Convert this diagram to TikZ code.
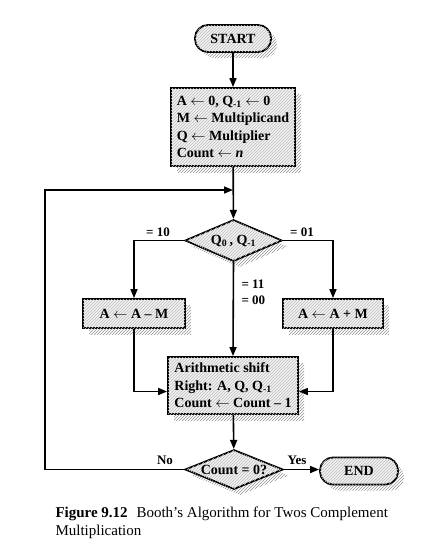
\documentclass[tikz,border=0pt]{standalone}
\usepackage{fontspec}
\setmainfont{Liberation Serif}
\usetikzlibrary{shapes.geometric,arrows.meta,shadows,patterns}

\newcommand{\asgn}{\ensuremath{\leftarrow}}

\begin{document}
\begin{tikzpicture}[
    x=1pt, y=-1pt,
    hatch/.style={draw, line width=1.8pt, fill=gray!10,
        postaction={pattern=north east lines, pattern color=gray!50},
        drop shadow={shadow xshift=6pt, shadow yshift=-6pt, opacity=1,
            fill=gray!25, pattern=north east lines, pattern color=gray!85}},
    box/.style={hatch, inner sep=0pt, font=\fontsize{14}{17.5}\selectfont\bfseries},
    term/.style={box, rounded corners=13pt},
    dec/.style={box, diamond, inner sep=0pt},
    lbl/.style={font=\fontsize{13}{16}\selectfont\bfseries},
    flow/.style={line width=1.6pt, -{Triangle[length=9pt, width=7pt]}},
    capt/.style={font=\fontsize{15}{17}\selectfont, anchor=base west}
]
\useasboundingbox (0,0) rectangle (443,558);

% --- start and initialisation ---
\node[term, minimum width=76pt, minimum height=27pt] (start) at (233,38.5) {START};
\node[box, minimum width=124pt, minimum height=78pt, align=left] (init) at (233,127)
    {A \asgn\ 0, Q\textsubscript{-1} \asgn\ 0\\
     M \asgn\ Multiplicand\\
     Q \asgn\ Multiplier\\
     Count \asgn\ \textit{n}};

% --- test of Q0, Q-1 ---
\coordinate (loopin) at (233,190);
\coordinate (corner) at (45,190);
\node[dec, minimum width=97pt, minimum height=41pt] (qtest) at (233.5,240.5)
    {\makebox[30pt]{Q\textsubscript{0}\,, Q\textsubscript{-1}}};
\node[box, minimum width=102pt, minimum height=29pt] (sub) at (134,313.5) {A \asgn\ A -- M};
\node[box, minimum width=100pt, minimum height=29pt] (add) at (333,313.5) {A \asgn\ A + M};

\node[lbl] (l10) at (158,232) {= 10};
\node[lbl] (l01) at (302,232) {= 01};
\node[lbl, anchor=west, align=left] (l11) at (238,292) {= 11\\= 00};

% --- shift and count test ---
\node[box, minimum width=130pt, minimum height=57pt, align=left] (shift) at (233,385.5)
    {Arithmetic shift\\
     Right: A, Q, Q\textsubscript{-1}\\
     Count \asgn\ Count -- 1};
\node[dec, minimum width=98pt, minimum height=38pt] (ctest) at (234,469.5)
    {\makebox[30pt]{Count = 0?}};
\node[term, minimum width=78pt, minimum height=27pt] (stop) at (359,471) {END};

\node[lbl] (lno) at (165,460) {No};
\node[lbl] (lyes) at (297,460) {Yes};

% --- connectors ---
\draw[flow] (start) -- (init);
\draw[flow] (init) -- (qtest);
\draw[flow] (qtest.west) -| (sub.north);
\draw[flow] (qtest.east) -| (add.north);
\draw[flow] (qtest.south) -- (shift.north);
\draw[flow] (sub.south) |- ([yshift=-6pt]shift.west);
\draw[flow] (add.south) |- ([yshift=-6pt]shift.east);
\draw[flow] (shift) -- (ctest);
\draw[flow] (ctest.east) -- (stop.west |- ctest.east);
\draw[flow] (ctest.west) -- (ctest.west -| corner) -- (corner) -- (loopin);

% --- caption ---
\node[capt] (fig) at (52,517) {\textbf{Figure 9.12}};
\node[capt] (cap1) at (133,517) {Booth's Algorithm for Twos Complement};
\node[capt] (cap2) at (52,535) {Multiplication};

\end{tikzpicture}
\end{document}
